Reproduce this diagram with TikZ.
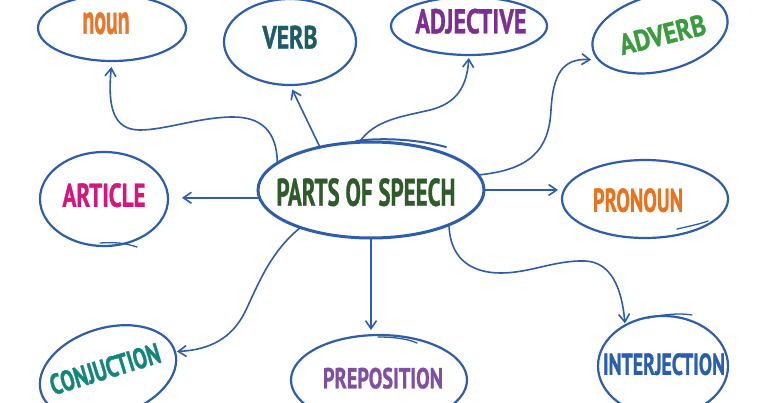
\documentclass[tikz,border=0pt]{standalone}
\usepackage{fontspec}
\setmainfont{PT Sans}[FakeBold=1.2]
\usetikzlibrary{shapes.geometric,arrows.meta}
\definecolor{ln}{HTML}{2E5DAA}
\definecolor{cnoun}{HTML}{E8772E}
\definecolor{cverb}{HTML}{1E5C63}
\definecolor{cadj}{HTML}{7D2E91}
\definecolor{cadv}{HTML}{3A9B3F}
\definecolor{cps}{HTML}{2F5A2A}
\definecolor{cart}{HTML}{D4177A}
\definecolor{cpron}{HTML}{E8731F}
\definecolor{cconj}{HTML}{13857A}
\definecolor{cprep}{HTML}{7E4FA3}
\definecolor{cint}{HTML}{2B5EAD}
\newcommand{\fittxt}[5]{\makebox[0pt]{\kern#4\relax\raisebox{\dimexpr-0.5\height-#5\relax}[0pt][0pt]{\resizebox*{#1}{#2}{\bfseries #3}}\kern-#4\relax}}
\begin{document}
\begin{tikzpicture}[x=1pt,y=-1pt,
  bub/.style={ellipse,draw=ln,line width=2.2pt,inner sep=0pt,outer sep=0pt},
  con/.style={draw=ln,line width=1.6pt,line cap=round,-{Straight Barb[length=8pt,width=11pt,line width=1.6pt]}},
  xtra/.style={draw=ln,line width=1.3pt,line cap=round}]
\useasboundingbox (0,0) rectangle (768,402);
\fill[white] (0,0) rectangle (768,402);

\node[bub,line width=3pt,minimum width=226pt,minimum height=96pt,text=cps] (ps) at (371,190) {\fittxt{179pt}{28pt}{PARTS OF SPEECH}{-5pt}{2pt}};
\node[bub,minimum width=148pt,minimum height=66pt,text=cnoun] (noun) at (112,28) {\fittxt{47pt}{22pt}{noun}{-6pt}{-5pt}};
\node[bub,minimum width=132pt,minimum height=86pt,text=cverb] (verb) at (290,42) {\fittxt{55pt}{23pt}{VERB}{0pt}{-5pt}};
\node[bub,minimum width=156pt,minimum height=58pt,text=cadj] (adj) at (469,26) {\fittxt{111pt}{25pt}{ADJECTIVE}{2pt}{-5pt}};
\node[bub,minimum width=138pt,minimum height=76pt,rotate=14,text=cadv] (adv) at (660,33) {\fittxt{88pt}{21pt}{ADVERB}{2pt}{2pt}};
\node[bub,minimum width=128pt,minimum height=94pt,text=cart] (art) at (104,199) {\fittxt{83pt}{24pt}{ARTICLE}{0pt}{-4pt}};
\node[bub,minimum width=166pt,minimum height=78pt,text=cpron] (pron) at (645,199) {\fittxt{90pt}{24pt}{PRONOUN}{-7pt}{1pt}};
\node[bub,minimum width=140pt,minimum height=88pt,rotate=17,text=cconj] (conj) at (108,372) {\fittxt{114pt}{21pt}{CONJUCTION}{-2pt}{-4pt}};
\node[bub,minimum width=176pt,minimum height=90pt,text=cprep] (prep) at (379,380) {\fittxt{120pt}{21pt}{PREPOSITION}{4pt}{-2pt}};
\node[bub,minimum width=130pt,minimum height=100pt,text=cint] (int) at (663,366) {\fittxt{122pt}{22pt}{INTERJECTION}{1pt}{-2pt}};

% hand-drawn overlap strokes
\draw[xtra,line width=2pt] (356,141) .. controls (385,137) and (420,140) .. (446,147);
\draw[xtra] (100,243) .. controls (115,242) and (125,243) .. (137,247);
\draw[xtra] (677,229) .. controls (690,226) and (700,224) .. (708,221);
\draw[xtra] (648,318) .. controls (665,314) and (680,313) .. (692,315);
\draw[xtra] (378,337) .. controls (395,337) and (408,339) .. (417,343);

% connectors
\draw[con,shorten >=6pt] (ps.164) .. controls (277,130) and (260,117) .. (233,117) .. controls (200,117) and (165,130) .. (140,130) .. controls (115,130) and (107,110) .. (noun.south);
\draw[con,shorten >=5pt] (ps.140) -- (verb.south);
\draw[con,shorten >=3pt] (ps.104) .. controls (375,120) and (400,117) .. (430,110) .. controls (458,103) and (467,85) .. (adj.south);
\draw[con,shorten >=8pt] (ps.8) .. controls (530,170) and (549,150) .. (551,110) .. controls (553,75) and (562,58) .. (adv.190);
\draw[con,shorten >=4pt] (ps.east) -- (ps.east -| pron.west);
\draw[con,shorten >=14pt] (ps.184) -- (ps.184 -| art.east);
\draw[con,shorten >=5pt] (ps.south) -- (ps.south |- prep.north);
\draw[con,shorten >=2pt] (ps.208) .. controls (270,252) and (258,285) .. (245,312) .. controls (232,338) and (210,350) .. (conj.east);
\draw[con,shorten >=2pt] (ps.-24) .. controls (450,262) and (475,273) .. (501,273) .. controls (530,273) and (555,260) .. (585,261) .. controls (612,262) and (622,290) .. (int.133);
\end{tikzpicture}
\end{document}
